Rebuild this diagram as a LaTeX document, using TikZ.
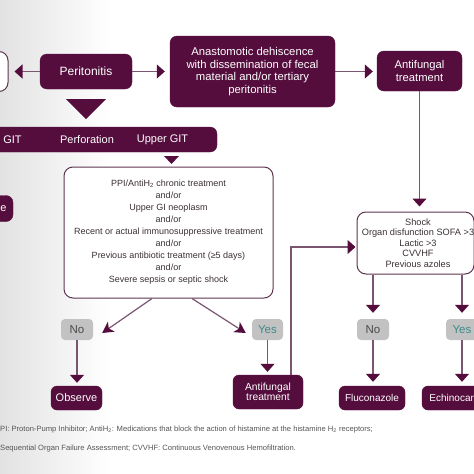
\documentclass[tikz,border=0pt]{standalone}
\usepackage{fontspec}
\setmainfont{Liberation Sans}
\usetikzlibrary{arrows.meta,calc}
\definecolor{plum}{HTML}{540D3C}
\definecolor{bord}{HTML}{5E3550}
\definecolor{linec}{HTML}{7A5570}
\definecolor{grayfill}{HTML}{C2C2C2}
\definecolor{notext}{HTML}{4A4A4A}
\definecolor{yestext}{HTML}{3E8A8A}
\definecolor{crittext}{HTML}{3A3035}
\definecolor{foot}{HTML}{555555}
\definecolor{bgl}{HTML}{E2E2E2}
\newcommand{\fsz}[2]{\fontsize{#1}{#2}\selectfont}
\begin{document}
\begin{tikzpicture}[x=1pt,y=-1pt,
  darkbox/.style={fill=plum, draw=plum, rounded corners=7pt, text=white, align=center, inner sep=0pt},
  whitebox/.style={fill=white, draw=bord, line width=1pt, rounded corners=9pt, align=center, inner sep=0pt, text=crittext},
  graybox/.style={fill=grayfill, rounded corners=4pt, inner sep=0pt, font=\fsz{11.5}{13}},
  conn/.style={draw=linec, line width=1.2pt, -{Triangle[length=8pt,width=14pt,color=plum,fill=plum]}},
  diag/.style={draw=linec, line width=1.2pt, -{Stealth[length=11pt,width=12pt,inset=3pt,color=plum,fill=plum]}},
  txt/.style={inner sep=0pt, align=center}
]
\useasboundingbox (0,0) rectangle (474,474);
\clip (0,0) rectangle (474,474);
\fill[white] (0,0) rectangle (474,474);
\shade[left color=bgl, right color=white] (0,0) rectangle (110,474);

% top row
\node[whitebox, minimum width=48pt, minimum height=40pt] (lbox) at (-16,71.5) {};
\node[darkbox, minimum width=92pt, minimum height=35pt, font=\fsz{12}{14}] (perit) at (86,71.5) {Peritonitis};
\node[darkbox, minimum width=165pt, minimum height=71pt, font=\fsz{11.3}{12.6}] (anast) at (252.5,71.5)
  {Anastomotic dehiscence\\with dissemination of fecal\\material and/or tertiary\\peritonitis};
\node[darkbox, minimum width=85pt, minimum height=40pt, font=\fsz{11.2}{13.3}] (af1) at (419.5,71) {Antifungal\\treatment};

% triangle and bar
\fill[plum] (66,99) -- (106,99) -- (86,119) -- cycle;
\node[darkbox, minimum width=240pt, minimum height=25pt] (bar) at (97,139.5) {};
\node[txt, text=white, font=\fsz{11}{13}] (git) at (12.5,140) {GIT};
\node[txt, text=white, font=\fsz{11}{13}] (perf) at (87,140) {Perforation};
\node[txt, text=white, font=\fsz{11}{13}] (ugit) at (162.5,140) {Upper GIT};
\fill[plum] (164,156) -- (179,156) -- (171.5,164) -- cycle;

% left dark box (cut)
\node[darkbox, minimum width=54pt, minimum height=26pt] (ldark) at (-14,208.5) {};
\node[txt, text=white, font=\fsz{11}{13}] (ldarkt) at (3.5,208.5) {e};

% criteria box
\node[whitebox, minimum width=209pt, minimum height=131pt, font=\fsz{9}{12}] (crit) at (168.5,232.5)
  {PPI/AntiH\textsubscript{2} chronic treatment\\and/or\\Upper GI neoplasm\\and/or\\Recent or actual immunosuppressive treatment\\and/or\\Previous antibiotic treatment (≥5 days)\\and/or\\Severe sepsis or septic shock};

% shock box
\node[whitebox, minimum width=117pt, minimum height=62pt] (shock) at (415.5,243) {};
\node[txt, text=crittext, font=\fsz{9.2}{10.5}] (shocktxt) at (418,243)
  {Shock\\Organ disfunction SOFA >3\\Lactic >3\\CVVHF\\Previous azoles};

% decision boxes
\node[graybox, minimum width=32pt, minimum height=21pt, text=notext] (no1) at (77,329.5) {No};
\node[graybox, minimum width=31pt, minimum height=21pt, text=yestext] (yes1) at (267.5,329.5) {Yes};
\node[graybox, minimum width=32pt, minimum height=21pt, text=notext] (no2) at (373,329.5) {No};
\node[graybox, minimum width=32pt, minimum height=21pt, text=yestext] (yes2) at (462,329.5) {Yes};

% bottom boxes
\node[darkbox, rounded corners=6pt, minimum width=51pt, minimum height=24pt, font=\fsz{11}{13}] (obs) at (76.5,398) {Observe};
\node[darkbox, rounded corners=6pt, minimum width=70pt, minimum height=34pt, font=\fsz{10.3}{10.5}] (af2) at (268,392) {Antifungal\\treatment};
\node[darkbox, rounded corners=6pt, minimum width=66pt, minimum height=24pt, font=\fsz{10}{12}] (fluc) at (372,398) {Fluconazole};
\node[darkbox, rounded corners=6pt, minimum width=80pt, minimum height=24pt, font=\fsz{10}{12}] (echi) at (462,398) {Echinocandins};

% connectors
\draw[conn, shorten >=6pt] (perit.west) -- (lbox.east);
\draw[conn, shorten >=5pt] (perit.east) -- (anast.west);
\draw[conn, shorten >=4pt] (anast.east) -- (anast.east -| af1.west);
\draw[conn, shorten >=5pt] (af1.south) -- (af1.south |- shock.north);
\draw[diag] ([xshift=-16.5pt]crit.south) -- ([xshift=9pt,yshift=-3.5pt]no1.east);
\draw[diag] ([xshift=23.5pt]crit.south) -- ([xshift=-6pt,yshift=-3.5pt]yes1.west);
\draw[conn, shorten >=3pt] (no1.south) -- (no1.south |- obs.north);
\draw[conn, shorten >=3pt] (yes1.south) -- (yes1.south |- af2.north);
\draw[conn, shorten >=1pt] ([xshift=23pt]af2.north) |- ([yshift=-4pt]shock.west);
\draw[conn, shorten >=6pt] (no2.north |- shock.south) -- (no2.north);
\draw[conn, shorten >=6pt] (yes2.north |- shock.south) -- (yes2.north);
\draw[conn, shorten >=4pt] (no2.south) -- (no2.south |- fluc.north);
\draw[conn, shorten >=4pt] (yes2.south) -- (yes2.south |- echi.north);

% footnotes
\node[anchor=base west, inner sep=0pt, text=foot, font=\fsz{7.6}{9}] (fn1) at (0,431)
  {PI: Proton-Pump Inhibitor; AntiH\textsubscript{2}: Medications that block the action of histamine at the histamine H\textsubscript{2} receptors;};
\node[anchor=base west, inner sep=0pt, text=foot, font=\fsz{7.6}{9}] (fn2) at (0,450)
  {Sequential Organ Failure Assessment; CVVHF: Continuous Venovenous Hemofiltration.};
\end{tikzpicture}
\end{document}
